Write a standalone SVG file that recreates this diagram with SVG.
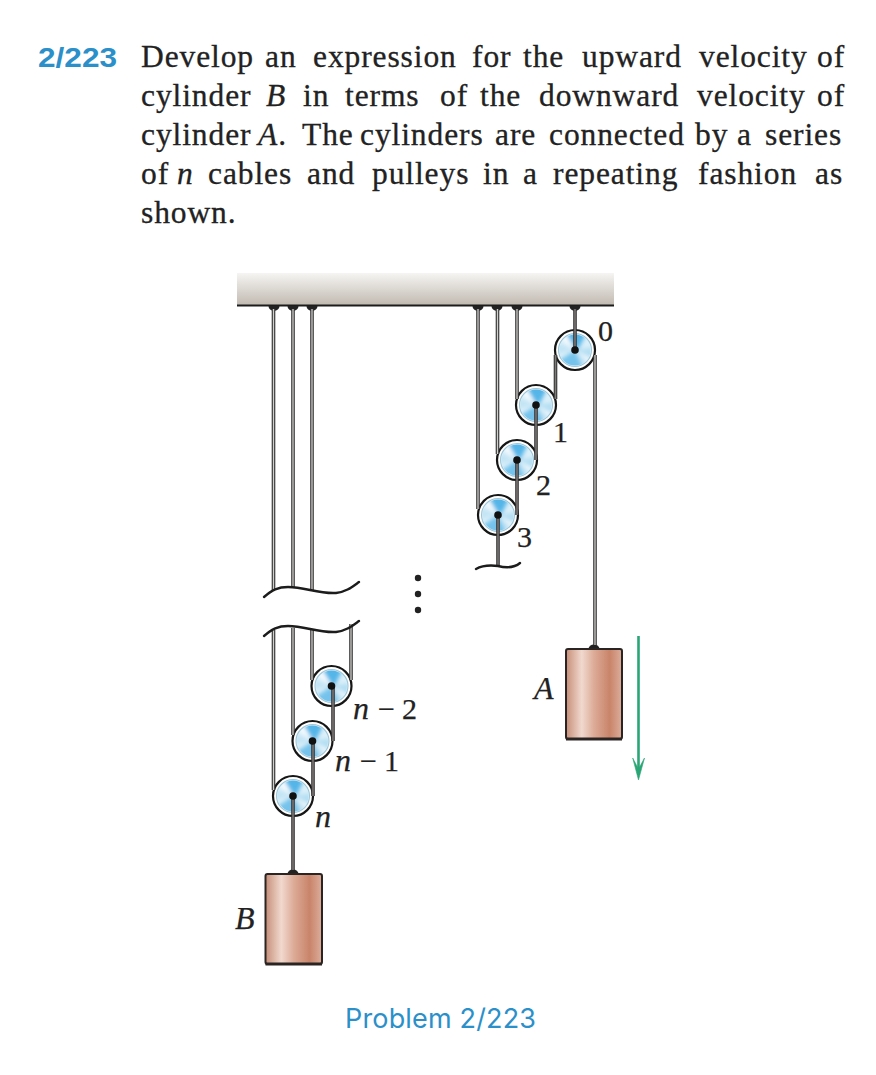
<svg xmlns="http://www.w3.org/2000/svg" xmlns:xlink="http://www.w3.org/1999/xlink" width="876" height="1075" viewBox="0 0 876 1075">
<style>
.body{font-family:"Liberation Serif","Times New Roman",serif;font-size:31.5px;letter-spacing:.9px;fill:#222;stroke:#222;stroke-width:.3}
.i{font-style:italic}
.lab{font-family:"Liberation Serif","Times New Roman",serif;font-size:30px;fill:#222;stroke:#222;stroke-width:.25}
.it{font-style:italic;font-size:32px}
.blue{fill:#2b90c9}
.co{fill:none;stroke:#333;stroke-width:3.6}
.ci{fill:none;stroke:#d2d0ce;stroke-width:1.3}
.cd{fill:none;stroke:#7d7a78;stroke-width:1.5}
.brk{fill:none;stroke:#1c1c1c;stroke-width:2.4;stroke-linecap:round}
.cyl{stroke:#2a2422;stroke-width:2}
.anchor{fill:#222}
.hub{fill:#111}
</style>
<defs>
<linearGradient id="ceil" x1="0" y1="0" x2="0" y2="1"><stop offset="0" stop-color="#f6f5f3"/><stop offset="1" stop-color="#c1bab1"/></linearGradient>
<linearGradient id="metal" x1="0" y1="0" x2="1" y2="0"><stop offset="0" stop-color="#c68e78"/><stop offset=".28" stop-color="#f1d9ce"/><stop offset=".5" stop-color="#dcab97"/><stop offset=".78" stop-color="#c9846a"/><stop offset="1" stop-color="#dcae9c"/></linearGradient>
<clipPath id="disc"><circle r="15.500"/></clipPath>
<filter id="soft" x="-30%" y="-30%" width="160%" height="160%"><feGaussianBlur stdDeviation="2"/></filter>
<g id="wheel">
<circle r="20" fill="#fff" stroke="#161616" stroke-width="2.2"/>
<circle r="16.500" fill="#dcf0f9" stroke="#9dc6d8" stroke-width="1.1"/>
<g clip-path="url(#disc)"><g filter="url(#soft)">
<path d="M-11-20L13-20L2 2Z" fill="#55b5e8"/>
<path d="M-18 12L-8 20L9 20L0 0Z" fill="#74c3ec"/>
<path d="M19 -3L19 10L8 14L0 0Z" fill="#b4dff3"/>
<path d="M-19 -8L-19 4L0 0Z" fill="#c2e4f5"/>
<path d="M0 0L13 12L16 9Z" fill="#fff"/>
<path d="M0 0L-13 -11L-10 -15Z" fill="#fff"/>
</g></g>
</g>
</defs>
<rect width="876" height="1075" fill="#fff"/>

<text class="blue" x="38" y="67" font-family="'Liberation Sans',Arial,sans-serif" font-size="27" font-weight="700" textLength="79" lengthAdjust="spacingAndGlyphs">2/223</text>
<text class="body" y="67"><tspan x="141">Develop</tspan> <tspan x="265">an</tspan> <tspan x="313">expression</tspan> <tspan x="472">for</tspan> <tspan x="523">the</tspan> <tspan x="582">upward</tspan> <tspan x="699">velocity</tspan> <tspan x="817">of</tspan></text>
<text class="body" y="106"><tspan x="141">cylinder</tspan> <tspan x="266" class="i">B</tspan> <tspan x="303">in</tspan> <tspan x="345">terms</tspan> <tspan x="440">of</tspan> <tspan x="480">the</tspan> <tspan x="539">downward</tspan> <tspan x="697">velocity</tspan> <tspan x="817">of</tspan></text>
<text class="body" y="145"><tspan x="141">cylinder</tspan> <tspan x="258" class="i">A</tspan><tspan>.</tspan> <tspan x="302">The</tspan> <tspan x="360">cylinders</tspan> <tspan x="495">are</tspan> <tspan x="549">connected</tspan> <tspan x="695">by</tspan> <tspan x="737">a</tspan> <tspan x="765">series</tspan></text>
<text class="body" y="184"><tspan x="141">of</tspan> <tspan x="177" class="i">n</tspan> <tspan x="208">cables</tspan> <tspan x="307">and</tspan> <tspan x="372">pulleys</tspan> <tspan x="483">in</tspan> <tspan x="523">a</tspan> <tspan x="553">repeating</tspan> <tspan x="698">fashion</tspan> <tspan x="815">as</tspan></text>
<text class="body" x="141" y="223">shown.</text>

<g id="ceiling">
<rect x="237" y="273" width="377" height="32" fill="url(#ceil)"/>
<path d="M237 305.500H614" stroke="#1c1c1c" stroke-width="2"/>
<path class="anchor" d="M268.500 306h11a5.500 5 0 0 1-11 0ZM287.500 306h11a5.500 5 0 0 1-11 0ZM306.500 306h11a5.500 5 0 0 1-11 0ZM472.500 306h11a5.500 5 0 0 1-11 0ZM491.500 306h11a5.500 5 0 0 1-11 0ZM511.500 306h11a5.500 5 0 0 1-11 0ZM569.500 306h11a5.500 5 0 0 1-11 0Z"/>
</g>

<g id="pulley-0"><use xlink:href="#wheel" href="#wheel" x="575" y="350"/></g>
<g id="pulley-1"><use xlink:href="#wheel" href="#wheel" x="536" y="405"/></g>
<g id="pulley-2"><use xlink:href="#wheel" href="#wheel" x="517" y="460"/></g>
<g id="pulley-3"><use xlink:href="#wheel" href="#wheel" x="498" y="515"/></g>
<g id="pulley-n2"><use xlink:href="#wheel" href="#wheel" x="331.500" y="686"/></g>
<g id="pulley-n1"><use xlink:href="#wheel" href="#wheel" x="312.500" y="741"/></g>
<g id="pulley-n"><use xlink:href="#wheel" href="#wheel" x="293" y="796"/></g>

<g id="cylinder-A"><path class="anchor" d="M588.500 649a5.500 4.500 0 0 1 11 0Z"/><rect class="cyl" x="566" y="649" width="56" height="90" rx="2" fill="url(#metal)"/><path d="M566 739H622" stroke="#2a2422" stroke-width="3"/></g>
<g id="cylinder-B"><path class="anchor" d="M287.500 874a5.500 4.500 0 0 1 11 0Z"/><rect class="cyl" x="265.500" y="874" width="56.500" height="90" rx="2" fill="url(#metal)"/><path d="M265.500 964H322" stroke="#2a2422" stroke-width="3"/></g>

<g id="connectors">
<path class="co" d="M273.500 309V590M293 309V587M312 309V590M273.500 630V790M293 628V735M312 630V680M351 624V680M478 309V509M497.500 309V454M517 309V399M555.500 355V399M595 355V645M313 796V741M333 741V686M293 796V870M575 309V350M536 405V460M517 460V515M498 515V566"/>
<path class="ci" d="M273.500 309V590M293 309V587M312 309V590M273.500 630V790M293 628V735M312 630V680M351 624V680M478 309V509M497.500 309V454M517 309V399M595 355V645"/>
<path class="cd" d="M555.500 355V399M313 796V741M333 741V686M293 796V870M575 309V350M536 405V460M517 460V515M498 515V566"/>
</g>

<g id="hubs">
<circle class="hub" cx="575" cy="350" r="3.800"/><circle class="hub" cx="536" cy="405" r="3.800"/><circle class="hub" cx="517" cy="460" r="3.800"/><circle class="hub" cx="498" cy="515" r="3.800"/><circle class="hub" cx="331.500" cy="686" r="3.800"/><circle class="hub" cx="312.500" cy="741" r="3.800"/><circle class="hub" cx="293" cy="796" r="3.800"/>
</g>

<g id="breaks">
<path class="brk" d="M264 597C272 590 278 587 288 587C305 587 318 594 336 593C346 592 352 587 359 582"/>
<path class="brk" d="M264 636C272 629 278 626 288 626C305 626 318 633 336 632C346 631 352 626 359 621"/>
<path class="brk" d="M476 569C483 565 490 565 498 566C506 568 514 568 520 563"/>
</g>

<g id="dots" fill="#222"><circle cx="418" cy="578" r="3.200"/><circle cx="418" cy="594" r="3.200"/><circle cx="418" cy="610" r="3.200"/></g>

<g id="velocity-arrow"><path d="M638.500 636V775" stroke="#2aa575" stroke-width="2.600" fill="none"/><path d="M632.700 758L638.500 769L644.500 758L638.500 780Z" fill="#2aa575" stroke="#2aa575" stroke-width=".6"/></g>

<g id="labels">
<text class="lab" x="598" y="341">0</text>
<text class="lab" x="553" y="442">1</text>
<text class="lab" x="536" y="495">2</text>
<text class="lab" x="517" y="547">3</text>
<text class="lab it" x="534" y="699">A</text>
<text class="lab it" x="235" y="929">B</text>
<text class="lab" y="719"><tspan class="it" x="353">n</tspan><tspan x="378">−</tspan><tspan x="402">2</tspan></text>
<text class="lab" y="771"><tspan class="it" x="335">n</tspan><tspan x="360">−</tspan><tspan x="384">1</tspan></text>
<text class="lab it" x="315" y="827">n</text>
</g>
<text class="blue" x="345" y="1028" font-family="Inter,Roboto,sans-serif" font-size="27" textLength="191" lengthAdjust="spacing">Problem 2/223</text>
</svg>
